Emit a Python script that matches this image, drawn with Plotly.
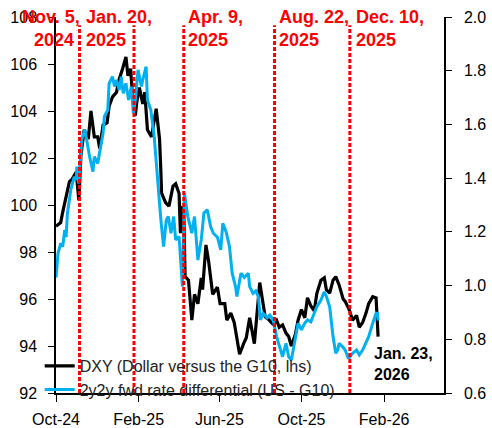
import plotly.graph_objects as go

# DXY (Dollar versus the G10), lhs
dxy_dates = ["2024-10-01", "2024-10-08", "2024-10-11", "2024-10-16", "2024-10-21", "2024-10-25",
             "2024-10-31", "2024-11-04", "2024-11-07", "2024-11-12", "2024-11-18", "2024-11-22",
             "2024-11-27", "2024-12-02", "2024-12-05", "2024-12-10", "2024-12-16", "2024-12-19",
             "2024-12-24", "2024-12-30", "2025-01-03", "2025-01-08", "2025-01-13", "2025-01-16",
             "2025-01-20", "2025-01-23", "2025-01-27", "2025-01-29", "2025-02-02", "2025-02-07",
             "2025-02-10", "2025-02-14", "2025-02-20", "2025-02-27", "2025-03-04", "2025-03-06",
             "2025-03-07", "2025-03-13", "2025-03-18", "2025-03-24", "2025-03-28", "2025-04-02",
             "2025-04-04", "2025-04-07", "2025-04-09", "2025-04-11", "2025-04-16", "2025-04-21",
             "2025-04-25", "2025-04-30", "2025-05-05", "2025-05-07", "2025-05-12", "2025-05-16",
             "2025-05-22", "2025-05-29", "2025-06-02", "2025-06-09", "2025-06-12", "2025-06-18",
             "2025-06-23", "2025-06-26", "2025-07-01", "2025-07-07", "2025-07-11", "2025-07-16",
             "2025-07-23", "2025-07-31", "2025-08-05", "2025-08-08", "2025-08-14", "2025-08-19",
             "2025-08-25", "2025-08-29", "2025-09-03", "2025-09-08", "2025-09-12", "2025-09-16",
             "2025-09-22", "2025-09-26", "2025-10-01", "2025-10-06", "2025-10-10", "2025-10-15",
             "2025-10-20", "2025-10-24", "2025-10-30", "2025-11-04", "2025-11-07", "2025-11-12",
             "2025-11-17", "2025-11-21", "2025-11-26", "2025-12-02", "2025-12-05", "2025-12-11",
             "2025-12-16", "2025-12-22", "2025-12-26", "2025-12-31", "2026-01-05", "2026-01-09",
             "2026-01-15", "2026-01-20", "2026-01-23"]
dxy = [99.1, 99.25, 99.7, 100.4, 101.0, 101.1,
       101.4, 100.2, 102.1, 103.2, 102.8, 104.0,
       102.9, 102.9, 102.4, 103.4, 103.5, 104.2,
       104.6, 104.8, 105.35, 105.8, 106.3, 105.5,
       105.8, 104.5, 103.8, 104.35, 105.0, 104.3,
       104.8, 103.2, 102.9, 104.1, 102.8, 101.4,
       100.5, 100.1, 99.95, 100.8, 100.9, 100.5,
       98.8, 99.95, 99.7, 96.95, 96.8, 95.1,
       96.2, 95.8, 96.9, 96.4, 98.3, 97.6,
       96.2, 96.5, 95.8, 95.8, 95.1, 95.4,
       95.0, 94.5, 93.65, 94.1, 94.35, 95.2,
       94.1, 96.7, 95.8, 95.25, 95.1, 94.95,
       95.1, 94.8, 94.9, 94.55, 94.4, 94.0,
       94.5, 95.1, 95.55, 95.2, 96.05, 95.7,
       95.5, 96.25, 96.8, 96.9, 96.4, 96.25,
       96.8, 96.95, 96.6, 96.0, 95.9, 95.55,
       95.1, 95.3, 94.8, 95.0, 95.4, 95.8,
       96.1, 96.05, 94.4]

# 2y2y fwd rate differential (US - G10), rhs
diff_dates = ["2024-10-01", "2024-10-04", "2024-10-08", "2024-10-11", "2024-10-14", "2024-10-16",
              "2024-10-18", "2024-10-23", "2024-10-28", "2024-10-31", "2024-11-01", "2024-11-04",
              "2024-11-07", "2024-11-08", "2024-11-13", "2024-11-18", "2024-11-20", "2024-11-25",
              "2024-11-27", "2024-12-02", "2024-12-05", "2024-12-10", "2024-12-12", "2024-12-17",
              "2024-12-19", "2024-12-24", "2024-12-27", "2024-12-30", "2025-01-03", "2025-01-06",
              "2025-01-09", "2025-01-13", "2025-01-17", "2025-01-21", "2025-01-24", "2025-01-27",
              "2025-01-31", "2025-02-05", "2025-02-07", "2025-02-12", "2025-02-14", "2025-02-19",
              "2025-02-24", "2025-02-27", "2025-03-03", "2025-03-06", "2025-03-10", "2025-03-14",
              "2025-03-17", "2025-03-21", "2025-03-25", "2025-03-28", "2025-04-02", "2025-04-07",
              "2025-04-10", "2025-04-15", "2025-04-21", "2025-04-25", "2025-04-30", "2025-05-05",
              "2025-05-09", "2025-05-14", "2025-05-19", "2025-05-23", "2025-05-29", "2025-06-03",
              "2025-06-06", "2025-06-11", "2025-06-16", "2025-06-20", "2025-06-25", "2025-06-27",
              "2025-07-03", "2025-07-08", "2025-07-14", "2025-07-16", "2025-07-21", "2025-07-25",
              "2025-07-29", "2025-08-01", "2025-08-05", "2025-08-11", "2025-08-15", "2025-08-20",
              "2025-08-25", "2025-08-29", "2025-09-03", "2025-09-08", "2025-09-12", "2025-09-16",
              "2025-09-22", "2025-09-26", "2025-10-01", "2025-10-06", "2025-10-10", "2025-10-15",
              "2025-10-20", "2025-10-24", "2025-10-30", "2025-11-04", "2025-11-07", "2025-11-12",
              "2025-11-17", "2025-11-21", "2025-11-24", "2025-11-26", "2025-12-02", "2025-12-05",
              "2025-12-10", "2025-12-16", "2025-12-22", "2025-12-26", "2025-12-31", "2026-01-05",
              "2026-01-09", "2026-01-15", "2026-01-20", "2026-01-22", "2026-01-23"]
rate_diff = [1.03, 1.12, 1.157, 1.145, 1.207, 1.18,
             1.27, 1.356, 1.405, 1.393, 1.443, 1.38,
             1.493, 1.542, 1.58, 1.505, 1.48, 1.424,
             1.48, 1.455, 1.493, 1.567, 1.63, 1.654,
             1.753, 1.778, 1.741, 1.766, 1.728, 1.778,
             1.716, 1.753, 1.691, 1.741, 1.642, 1.691,
             1.803, 1.741, 1.766, 1.815, 1.691, 1.654,
             1.555, 1.455, 1.331, 1.244, 1.145, 1.244,
             1.257, 1.195, 1.257, 1.17, 1.182, 0.996,
             1.344, 1.257, 1.195, 1.257, 1.095, 1.17,
             1.27, 1.282, 1.219, 1.195, 1.18, 1.133,
             1.232, 1.2, 1.145, 1.046, 0.996, 0.959,
             1.046, 1.03, 1.046, 0.996, 0.971, 0.98,
             0.959, 0.872, 0.897, 0.88, 0.89, 0.872,
             0.81, 0.772, 0.735, 0.785, 0.735, 0.723,
             0.81, 0.86, 0.835, 0.86, 0.872, 0.865,
             0.897, 0.921, 0.946, 0.977, 0.96, 0.921,
             0.81, 0.748, 0.76, 0.785, 0.77, 0.76,
             0.728, 0.748, 0.76, 0.742, 0.76, 0.785,
             0.81, 0.86, 0.897, 0.897, 0.87]

event_dates = ["2024-11-05", "2025-01-25", "2025-04-09", "2025-08-22", "2025-12-12"]
event_line1 = ["Nov. 5,", "Jan. 20,", "Apr. 9,", "Aug. 22,", "Dec. 10,"]
event_line2 = ["2024", "2025", "2025", "2025", "2025"]

x_tickvals = ["2024-10-01", "2025-02-01", "2025-06-01", "2025-10-01", "2026-02-01"]
x_ticktext = ["Oct-24", "Feb-25", "Jun-25", "Oct-25", "Feb-26"]

FONT = "Liberation Sans, Arial, sans-serif"

fig = go.Figure()
fig.add_trace(go.Scatter(x=dxy_dates, y=dxy, mode="lines",
                         name="DXY (Dollar versus the G10, lhs)",
                         line=dict(color="#000000", width=3.2)))
fig.add_trace(go.Scatter(x=diff_dates, y=rate_diff, mode="lines", yaxis="y2",
                         name="2y2y fwd rate differential (US - G10)",
                         line=dict(color="#00B0F0", width=3)))

# dotted event lines
for d in event_dates:
    fig.add_shape(type="line", xref="x", yref="paper", x0=d, x1=d, y0=0, y1=0.978,
                  line=dict(color="#FF0000", width=3, dash="4px,2px"))

red_font = dict(family=FONT, size=18, color="#FF0000", weight="bold")


def add_label(anchor_date, anchor, shift, l1, l2):
    # two separate lines so the line spacing matches the original
    fig.add_annotation(x=anchor_date, y=1, xref="x", yref="paper", text=l1,
                       xanchor=anchor, yanchor="middle", xshift=shift, yshift=0,
                       showarrow=False, font=red_font)
    fig.add_annotation(x=anchor_date, y=1, xref="x", yref="paper", text=l2,
                       xanchor="left", yanchor="middle",
                       xshift=(shift - 50 if anchor == "right" else shift), yshift=-23,
                       showarrow=False, font=red_font)


# Nov. 5 sits left of its line, Jan. 20 sits right of the Nov. 5 line
add_label(event_dates[0], "right", 2, event_line1[0], event_line2[0])
add_label(event_dates[0], "left", 4, event_line1[1], event_line2[1])
add_label(event_dates[2], "left", 2, event_line1[2], event_line2[2])
add_label(event_dates[3], "left", 2, event_line1[3], event_line2[3])
add_label(event_dates[4], "left", 4, event_line1[4], event_line2[4])

fig.add_annotation(x=dxy_dates[-1], y=93.25, xref="x", yref="y", text="Jan. 23,<br>2026",
                   xanchor="left", yanchor="middle", xshift=-6, align="left",
                   showarrow=False, font=dict(family=FONT, size=16, color="#000000", weight="bold"))

fig.update_layout(
    width=492, height=428,
    margin=dict(l=56, r=48, t=17, b=35, autoexpand=False),
    paper_bgcolor="white", plot_bgcolor="white",
    font=dict(family=FONT, size=16, color="#000000"),
    showlegend=True,
    legend=dict(x=-0.042, y=-0.037, xanchor="left", yanchor="bottom",
                bgcolor="rgba(0,0,0,0)", font=dict(size=16, color="#222222"),
                tracegroupgap=0, itemwidth=30),
    xaxis=dict(range=["2024-10-01", "2026-05-01"], tickvals=x_tickvals, ticktext=x_ticktext,
               showgrid=False, zeroline=False, showline=True, linecolor="#000000", linewidth=1.5,
               ticks="outside", ticklen=7, tickcolor="#000000", ticklabelstandoff=4,
               automargin=False),
    yaxis=dict(range=[92, 108], dtick=2, showgrid=False, zeroline=False, showline=True,
               linecolor="#000000", linewidth=1.5, ticks="outside", ticklen=6,
               tickcolor="#000000", ticklabelstandoff=8, automargin=False),
    yaxis2=dict(range=[0.6, 2.0], dtick=0.2, tickformat=".1f", overlaying="y", side="right",
                showgrid=False, zeroline=False, showline=True, linecolor="#000000",
                linewidth=1.5, ticks="outside", ticklen=6, tickcolor="#000000",
                ticklabelstandoff=9, automargin=False),
)

# drop the browser's default page margin so the figure sits at the window corner
fig.write_html("out.html", config={"displayModeBar": False},
               post_script="document.body.style.margin='0';")
